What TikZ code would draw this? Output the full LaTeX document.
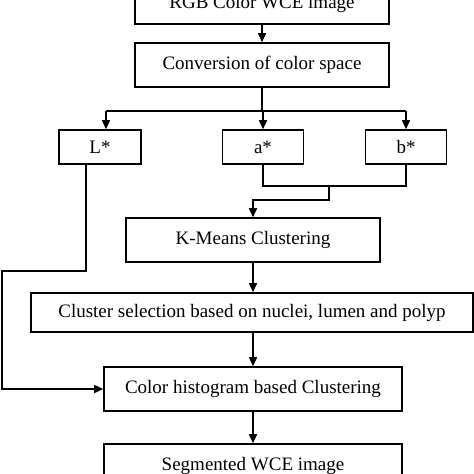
\documentclass[tikz,border=0pt]{standalone}
\usepackage{fontspec}
\setmainfont{Liberation Serif}
\usepackage{tikz}
\usetikzlibrary{arrows.meta, calc}

\begin{document}
\begin{tikzpicture} [x=1pt, y=-1pt,
	line width=1.6pt,
	box/.style={draw, line width=1.6pt, inner sep=0pt, font=\fontsize{19}{22}\selectfont},
	arr/.style={-{Triangle[length=9pt, width=8pt]}}]
	\useasboundingbox (0,0) rectangle (474,474);
	\clip (0,0) rectangle (474,474);
	
	\node[box, minimum width=254pt, minimum height=41pt] (rgb) at (262,3.5) {RGB Color WCE image};
	\node[box, minimum width=254pt, minimum height=44pt] (conv) at (262,65) {Conversion of color space};
	
	\node[box, minimum width=82pt, minimum height=34pt] (lstar) at (100,147) {L*};
	\node[box, minimum width=81pt, minimum height=34pt] (astar) at (263,147) {a*};
	\node[box, minimum width=81pt, minimum height=34pt] (bstar) at (406,147) {b*};
	
	\node[box, minimum width=254pt, minimum height=44pt] (kmeans) at (253,240) {K-Means Clustering};
	\node[box, minimum width=442pt, minimum height=39pt] (select) at (252,312.5) {Cluster selection based on nuclei, lumen and polyp};
	\node[box, minimum width=298pt, minimum height=44pt] (hist) at (253,389) {Color histogram based Clustering};
	\node[box, minimum width=298pt, minimum height=44pt] (seg) at (253,466) {Segmented WCE image};
	
	% split of the colour channels
	\coordinate (split) at (262,111);
	\coordinate (join) at (329,186);
	\coordinate (bend) at (2,271);
	\coordinate (ltop) at ([xshift=6pt]lstar.north);
	
	\draw[arr] (rgb) -- (conv);
	\draw (conv.south) -- (split);
	\draw (ltop |- split) -- (bstar.north |- split);
	\draw[arr] (ltop |- split) -- (ltop);
	\draw[arr] (astar.north |- split) -- (astar.north);
	\draw[arr] (bstar.north |- split) -- (bstar.north);
	
	\draw (astar.south) |- (join) -| (bstar.south);
	\draw[arr] (join) -- ++(0,14) -| (kmeans.north);
	\draw[arr] ([xshift=-14pt]lstar.south) |- (bend) |- (hist.west);
	
	\draw[arr] (kmeans.south) -- (kmeans.south |- select.north);
	\draw[arr] (select.south -| hist.north) -- (hist.north);
	\draw[arr] (hist) -- (seg);
	
\end{tikzpicture}
\end{document}
